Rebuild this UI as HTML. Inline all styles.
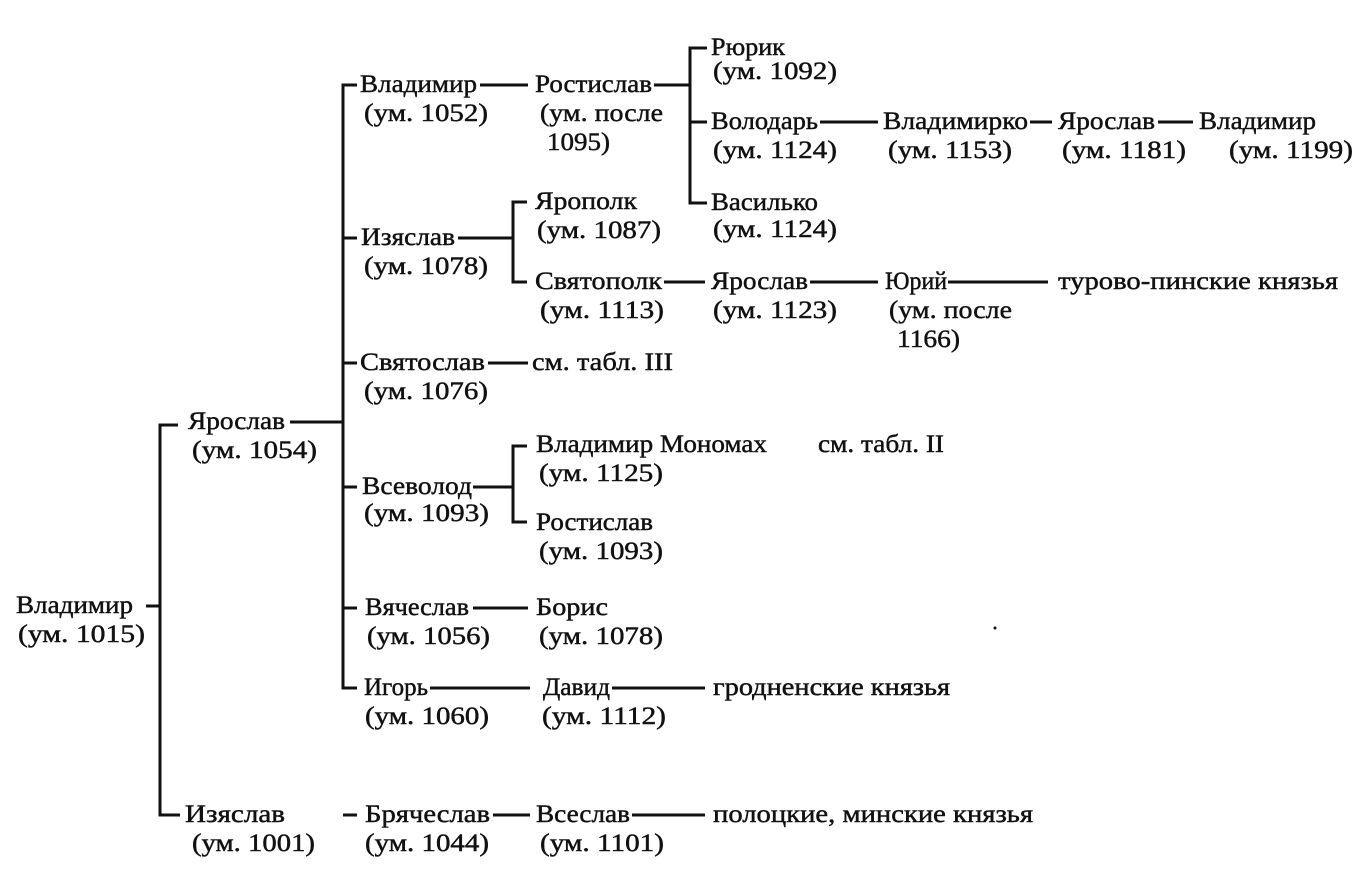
<!DOCTYPE html>
<html><head><meta charset="utf-8"><style>
html,body{margin:0;padding:0;background:#fff;}
svg{display:block}
text{font-family:"Liberation Serif",serif;font-size:25px;fill:#111;stroke:#111;stroke-width:0.45px;}
</style></head><body>
<svg width="1365" height="872" viewBox="0 0 1365 872" xmlns="http://www.w3.org/2000/svg">
<g stroke="#111" stroke-width="3" fill="none">
<path d="M146 606H160M178 425H160V815H180"/>
<path d="M290 422H343M357 85H343V688H357M343 238H357M343 363H357M343 487H357M343 608H357M343 815H357"/>
<path d="M480 85H528M458 238H513M527 202H513V282H527M488 363H528M473 487H513M527 446H513V522H527M473 608H528M430 688H530M493 815H530"/>
<path d="M654 85H690M707 48H690V203H707M690 122H707"/>
<path d="M820 122H878M1030 122H1052M1158 122H1193"/>
<path d="M664 282H705M810 282H878M948 282H1048"/>
<path d="M612 688H705M632 815H705"/>
</g>
<circle cx="995" cy="628" r="1.5" fill="#111"/>
<g>
<text x="16" y="613" textLength="117" lengthAdjust="spacingAndGlyphs">Владимир</text>
<text x="18" y="642" textLength="127" lengthAdjust="spacingAndGlyphs">(ум. 1015)</text>
<text x="188" y="429" textLength="97" lengthAdjust="spacingAndGlyphs">Ярослав</text>
<text x="192" y="458" textLength="125" lengthAdjust="spacingAndGlyphs">(ум. 1054)</text>
<text x="185" y="822" textLength="100" lengthAdjust="spacingAndGlyphs">Изяслав</text>
<text x="192" y="851" textLength="123" lengthAdjust="spacingAndGlyphs">(ум. 1001)</text>

<text x="360" y="92" textLength="117" lengthAdjust="spacingAndGlyphs">Владимир</text>
<text x="364" y="121" textLength="124" lengthAdjust="spacingAndGlyphs">(ум. 1052)</text>
<text x="361" y="245" textLength="94" lengthAdjust="spacingAndGlyphs">Изяслав</text>
<text x="364" y="274" textLength="124" lengthAdjust="spacingAndGlyphs">(ум. 1078)</text>
<text x="360" y="370" textLength="125" lengthAdjust="spacingAndGlyphs">Святослав</text>
<text x="364" y="399" textLength="124" lengthAdjust="spacingAndGlyphs">(ум. 1076)</text>
<text x="362" y="494" textLength="110" lengthAdjust="spacingAndGlyphs">Всеволод</text>
<text x="364" y="521" textLength="125" lengthAdjust="spacingAndGlyphs">(ум. 1093)</text>
<text x="365" y="615" textLength="104" lengthAdjust="spacingAndGlyphs">Вячеслав</text>
<text x="367" y="644" textLength="123" lengthAdjust="spacingAndGlyphs">(ум. 1056)</text>
<text x="364" y="695" textLength="64" lengthAdjust="spacingAndGlyphs">Игорь</text>
<text x="365" y="724" textLength="124" lengthAdjust="spacingAndGlyphs">(ум. 1060)</text>
<text x="365" y="822" textLength="125" lengthAdjust="spacingAndGlyphs">Брячеслав</text>
<text x="365" y="851" textLength="124" lengthAdjust="spacingAndGlyphs">(ум. 1044)</text>

<text x="535" y="92" textLength="117" lengthAdjust="spacingAndGlyphs">Ростислав</text>
<text x="540" y="121" textLength="123" lengthAdjust="spacingAndGlyphs">(ум. после</text>
<text x="547" y="150" textLength="63" lengthAdjust="spacingAndGlyphs">1095)</text>
<text x="535" y="209" textLength="102" lengthAdjust="spacingAndGlyphs">Ярополк</text>
<text x="537" y="238" textLength="124" lengthAdjust="spacingAndGlyphs">(ум. 1087)</text>
<text x="535" y="289" textLength="127" lengthAdjust="spacingAndGlyphs">Святополк</text>
<text x="540" y="318" textLength="124" lengthAdjust="spacingAndGlyphs">(ум. 1113)</text>
<text x="532" y="370" textLength="141" lengthAdjust="spacingAndGlyphs">см. табл. III</text>
<text x="536" y="452" textLength="231" lengthAdjust="spacingAndGlyphs">Владимир Мономах</text>
<text x="539" y="481" textLength="124" lengthAdjust="spacingAndGlyphs">(ум. 1125)</text>
<text x="536" y="530" textLength="117" lengthAdjust="spacingAndGlyphs">Ростислав</text>
<text x="539" y="559" textLength="124" lengthAdjust="spacingAndGlyphs">(ум. 1093)</text>
<text x="536" y="615" textLength="72" lengthAdjust="spacingAndGlyphs">Борис</text>
<text x="539" y="644" textLength="124" lengthAdjust="spacingAndGlyphs">(ум. 1078)</text>
<text x="543" y="695" textLength="67" lengthAdjust="spacingAndGlyphs">Давид</text>
<text x="542" y="724" textLength="124" lengthAdjust="spacingAndGlyphs">(ум. 1112)</text>
<text x="536" y="822" textLength="94" lengthAdjust="spacingAndGlyphs">Всеслав</text>
<text x="540" y="851" textLength="124" lengthAdjust="spacingAndGlyphs">(ум. 1101)</text>

<text x="711" y="55" textLength="74" lengthAdjust="spacingAndGlyphs">Рюрик</text>
<text x="713" y="79" textLength="124" lengthAdjust="spacingAndGlyphs">(ум. 1092)</text>
<text x="711" y="129" textLength="107" lengthAdjust="spacingAndGlyphs">Володарь</text>
<text x="713" y="158" textLength="124" lengthAdjust="spacingAndGlyphs">(ум. 1124)</text>
<text x="711" y="210" textLength="107" lengthAdjust="spacingAndGlyphs">Василько</text>
<text x="713" y="237" textLength="124" lengthAdjust="spacingAndGlyphs">(ум. 1124)</text>
<text x="711" y="289" textLength="97" lengthAdjust="spacingAndGlyphs">Ярослав</text>
<text x="713" y="318" textLength="124" lengthAdjust="spacingAndGlyphs">(ум. 1123)</text>
<text x="818" y="452" textLength="126" lengthAdjust="spacingAndGlyphs">см. табл. II</text>
<text x="713" y="695" textLength="237" lengthAdjust="spacingAndGlyphs">гродненские князья</text>
<text x="713" y="822" textLength="320" lengthAdjust="spacingAndGlyphs">полоцкие, минские князья</text>

<text x="883" y="129" textLength="145" lengthAdjust="spacingAndGlyphs">Владимирко</text>
<text x="888" y="158" textLength="124" lengthAdjust="spacingAndGlyphs">(ум. 1153)</text>
<text x="885" y="289" textLength="62" lengthAdjust="spacingAndGlyphs">Юрий</text>
<text x="889" y="318" textLength="123" lengthAdjust="spacingAndGlyphs">(ум. после</text>
<text x="897" y="347" textLength="63" lengthAdjust="spacingAndGlyphs">1166)</text>
<text x="1058" y="129" textLength="97" lengthAdjust="spacingAndGlyphs">Ярослав</text>
<text x="1062" y="158" textLength="124" lengthAdjust="spacingAndGlyphs">(ум. 1181)</text>
<text x="1058" y="289" textLength="280" lengthAdjust="spacingAndGlyphs">турово-пинские князья</text>
<text x="1199" y="129" textLength="117" lengthAdjust="spacingAndGlyphs">Владимир</text>
<text x="1229" y="158" textLength="124" lengthAdjust="spacingAndGlyphs">(ум. 1199)</text>
</g>
</svg>
</body></html>
